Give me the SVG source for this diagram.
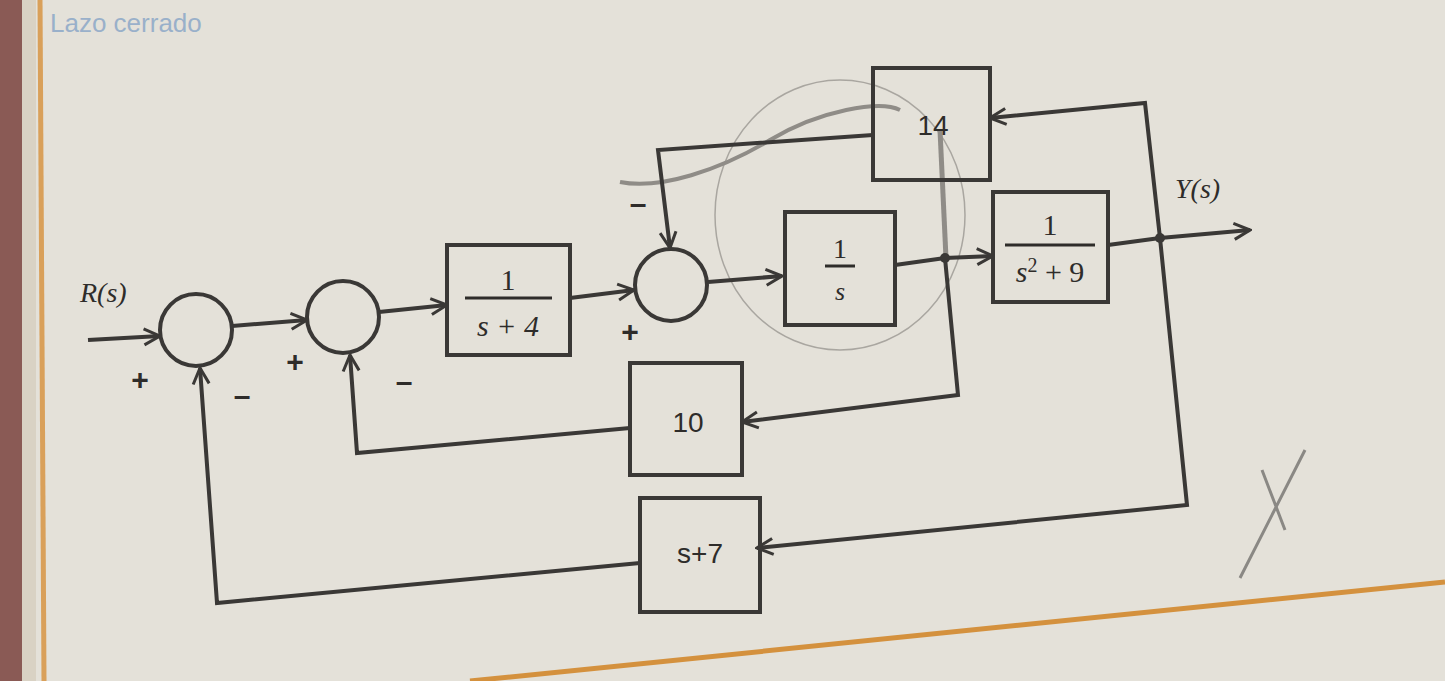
<svg xmlns="http://www.w3.org/2000/svg" width="1445" height="681" viewBox="0 0 1445 681">
<defs>
<marker id="ah" viewBox="0 0 20 20" refX="18" refY="10" markerWidth="20" markerHeight="20" markerUnits="userSpaceOnUse" orient="auto">
<path d="M2,2 L18,10 L2,18" fill="none" stroke="#3a3836" stroke-width="3"/>
</marker>
</defs>
<style>
.b{fill:none;stroke:#3a3836;stroke-width:4}
.c{fill:none;stroke:#3a3836;stroke-width:4}
.l{fill:none;stroke:#3a3836;stroke-width:4;marker-end:url(#ah)}
.t{font-family:"Liberation Serif",serif;fill:#2e2c2a}
.s{font-family:"Liberation Sans",sans-serif;font-weight:bold;fill:#2e2c2a}
.n{font-family:"Liberation Sans",sans-serif;fill:#2e2c2a}
</style>
<rect width="1445" height="681" fill="#e4e1d9"/>
<rect x="0" y="0" width="22" height="681" fill="#8a5a55"/>
<rect x="22" y="0" width="14" height="681" fill="#d9d2c4"/>
<line x1="40" y1="0" x2="44" y2="681" stroke="#d9a05a" stroke-width="5"/>
<line x1="470" y1="681" x2="1445" y2="582" stroke="#d4913e" stroke-width="5"/>
<text x="50" y="32" font-family="Liberation Sans,sans-serif" font-size="26" fill="#7a9cc4" opacity="0.7">Lazo cerrado</text>
<ellipse cx="840" cy="215" rx="125" ry="135" fill="none" stroke="#a9a6a0" stroke-width="1.5"/>
<path d="M620,182 C660,190 720,170 770,140 C820,110 880,100 900,110" fill="none" stroke="#8f8c87" stroke-width="4"/>
<path d="M1305,450 L1240,578 M1262,470 L1285,530" fill="none" stroke="#8a8884" stroke-width="3"/>
<g id="connectors">
<line class="l" x1="88" y1="340" x2="160" y2="336"/>
<line class="l" x1="232" y1="326" x2="307" y2="320"/>
<line class="l" x1="379" y1="312" x2="447" y2="305"/>
<line class="l" x1="570" y1="298" x2="634" y2="290"/>
<line class="l" x1="708" y1="282" x2="782" y2="276"/>
<polyline class="l" points="895,265 945,258 993,256"/>
<polyline class="l" points="1108,245 1160,238 1250,230"/>
<polyline class="l" points="1160,238 1145,103 990,118"/>
<polyline class="l" points="873,135 658,150 670,248"/>
<polyline class="l" points="945,258 958,395 742,422"/>
<polyline class="l" points="630,428 357,453 350,355"/>
<polyline class="l" points="1160,238 1187,505 757,548"/>
<polyline class="l" points="640,563 217,603 200,368"/>
<line x1="940" y1="130" x2="946" y2="258" stroke="#8f8c87" stroke-width="5"/>
<circle cx="945" cy="258" r="5" fill="#3a3836"/>
<circle cx="1160" cy="238" r="5" fill="#3a3836"/>
</g>
<g id="sum1"><circle class="c" cx="196" cy="330" r="36" fill="#e4e1d9"/></g>
<g id="sum2"><circle class="c" cx="343" cy="317" r="36" fill="#e4e1d9"/></g>
<g id="sum3"><circle class="c" cx="671" cy="285" r="36" fill="#bdb9b3"/></g>
<g id="b1"><rect class="b" x="447" y="245" width="123" height="110" fill="#e4e1d9"/>
<text class="t" x="508" y="290" font-size="30" text-anchor="middle">1</text>
<line x1="465" y1="298" x2="552" y2="298" stroke="#2e2c2a" stroke-width="3"/>
<text class="t" x="508" y="336" font-size="30" text-anchor="middle" font-style="italic">s + 4</text></g>
<g id="b2"><rect class="b" x="785" y="212" width="110" height="113" fill="#e4e1d9"/>
<text class="t" x="840" y="258" font-size="28" text-anchor="middle">1</text>
<line x1="825" y1="266" x2="855" y2="266" stroke="#2e2c2a" stroke-width="3"/>
<text class="t" x="840" y="300" font-size="26" text-anchor="middle" font-style="italic">s</text></g>
<g id="b3"><rect class="b" x="993" y="192" width="115" height="110" fill="#e4e1d9"/>
<text class="t" x="1050" y="235" font-size="30" text-anchor="middle">1</text>
<line x1="1005" y1="245" x2="1095" y2="245" stroke="#2e2c2a" stroke-width="3"/>
<text class="t" x="1050" y="282" font-size="30" text-anchor="middle"><tspan font-style="italic">s</tspan><tspan dy="-10" font-size="20">2</tspan><tspan dy="10"> + 9</tspan></text></g>
<g id="b14"><rect class="b" x="873" y="68" width="117" height="112" fill="#e4e1d9"/>
<text class="n" x="933" y="135" font-size="28" text-anchor="middle">14</text></g>
<g id="b10"><rect class="b" x="630" y="363" width="112" height="112" fill="#e4e1d9"/>
<text class="n" x="688" y="432" font-size="28" text-anchor="middle">10</text></g>
<g id="b7"><rect class="b" x="640" y="498" width="120" height="114" fill="#e4e1d9"/>
<text class="n" x="700" y="563" font-size="28" text-anchor="middle">s+7</text></g>
<g id="labels">
<text class="t" x="80" y="302" font-size="28" font-style="italic">R(s)</text>
<text class="t" x="1175" y="198" font-size="28" font-style="italic">Y(s)</text>
<text class="s" x="140" y="390" font-size="30" text-anchor="middle">+</text>
<text class="s" x="242" y="406" font-size="30" text-anchor="middle">–</text>
<text class="s" x="295" y="372" font-size="30" text-anchor="middle">+</text>
<text class="s" x="404" y="392" font-size="30" text-anchor="middle">–</text>
<text class="s" x="630" y="342" font-size="30" text-anchor="middle">+</text>
<text class="s" x="638" y="214" font-size="30" text-anchor="middle">–</text>
</g>
</svg>
